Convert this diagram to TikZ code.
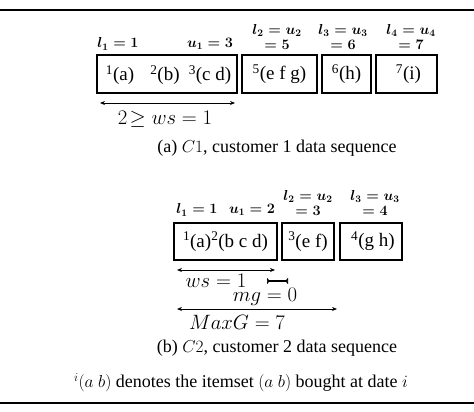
\documentclass[tikz,border=0pt]{standalone}
\usepackage{fontspec}
\setmainfont{Liberation Serif}
\usetikzlibrary{arrows.meta}
\begin{document}
\begin{tikzpicture}[x=1pt,y=-1pt,
  seqbox/.style={draw,line width=1.4pt,rectangle,inner sep=0pt,font=\fontsize{19}{21}\selectfont},
  itemtxt/.style={inner sep=0pt,font=\fontsize{19}{21}\selectfont},
  lbl/.style={inner sep=0pt,align=center,font=\fontsize{14}{15}\selectfont\boldmath},
  mathlbl/.style={inner sep=0pt,font=\fontsize{19.5}{21}\selectfont},
  caption/.style={inner sep=0pt,font=\fontsize{18}{20}\selectfont},
  span/.style={line width=0.9pt,{Stealth[length=5pt,width=4pt]}-{Stealth[length=5pt,width=4pt]}},
  gap/.style={line width=1.2pt,{Latex[reversed,length=3pt,width=7pt]}-{Latex[reversed,length=3pt,width=7pt]}}
]
\useasboundingbox (0,0) rectangle (474,412);
\draw[line width=1.5pt] (0,10) -- (474,10);
\draw[line width=2pt] (0,403) -- (474,403);

% ---- (a) C1
\node[seqbox,minimum width=140pt,minimum height=38pt] (a1) at (167,74) {};
\node[itemtxt] (a1i1) at (120,75) {\textsuperscript{1}(a)};
\node[itemtxt] (a1i2) at (165,75) {\textsuperscript{2}(b)};
\node[itemtxt] (a1i3) at (210,75) {\textsuperscript{3}(c d)};
\node[seqbox,minimum width=75pt,minimum height=38pt] (a2) at (279.5,74) {\textsuperscript{5}(e f g)};
\node[seqbox,minimum width=49pt,minimum height=38pt] (a3) at (346.5,74) {\textsuperscript{6}(h)};
\node[seqbox,minimum width=61pt,minimum height=38pt] (a4) at (406.5,74) {\hspace*{4pt}\textsuperscript{7}(i)};

\node[lbl] (al1) at (118,44) {$l_1=1$};
\node[lbl] (au1) at (210,44) {$u_1=3$};
\node[lbl] (al2) at (277,37) {$l_2=u_2$\\$=5$};
\node[lbl] (al3) at (343,37) {$l_3=u_3$\\$=6$};
\node[lbl] (al4) at (411,37) {$l_4=u_4$\\$=7$};

\coordinate (aws1) at (100,103);
\coordinate (aws2) at (235,103);
\draw[span] (aws1) -- (aws2);
\node[mathlbl] (awst) at (165,119) {$2\!\geq ws=1$};
\node[caption] (capa) at (277,148) {(a) $C1$, customer 1 data sequence};

% ---- (b) C2
\node[seqbox,minimum width=103pt,minimum height=37pt] (b1) at (225.5,241.5) {\textsuperscript{1}(a)\textsuperscript{2}(b c d)};
\node[seqbox,minimum width=52pt,minimum height=37pt] (b2) at (308,241.5) {\textsuperscript{3}(e f)};
\node[seqbox,minimum width=62pt,minimum height=37pt] (b3) at (371,241.5) {\hspace*{4pt}\textsuperscript{4}(g h)};

\node[lbl] (bl1) at (197,210) {$l_1=1$};
\node[lbl] (bu1) at (252,210) {$u_1=2$};
\node[lbl] (bl2) at (308,203) {$l_2=u_2$\\$=3$};
\node[lbl] (bl3) at (375,203) {$l_3=u_3$\\$=4$};

\coordinate (bws1) at (177,270);
\coordinate (bws2) at (275,270);
\draw[span] (bws1) -- (bws2);
\node[mathlbl] (bwst) at (216,281) {$ws=1$};
\coordinate (bmg1) at (267,281);
\coordinate (bmg2) at (288,281);
\draw[gap] (bmg1) -- (bmg2);
\node[mathlbl] (bmgt) at (265,297) {$mg=0$};
\coordinate (bmx1) at (177,309);
\coordinate (bmx2) at (337,309);
\draw[span] (bmx1) -- (bmx2);
\node[mathlbl] (bmxt) at (237,322) {$MaxG=7$};
\node[caption] (capb) at (277,348) {(b) $C2$, customer 2 data sequence};

\node[caption] (foot) at (241,383) {$^i(a\ b)$ denotes the itemset $(a\ b)$ bought at date $i$};
\end{tikzpicture}
\end{document}
